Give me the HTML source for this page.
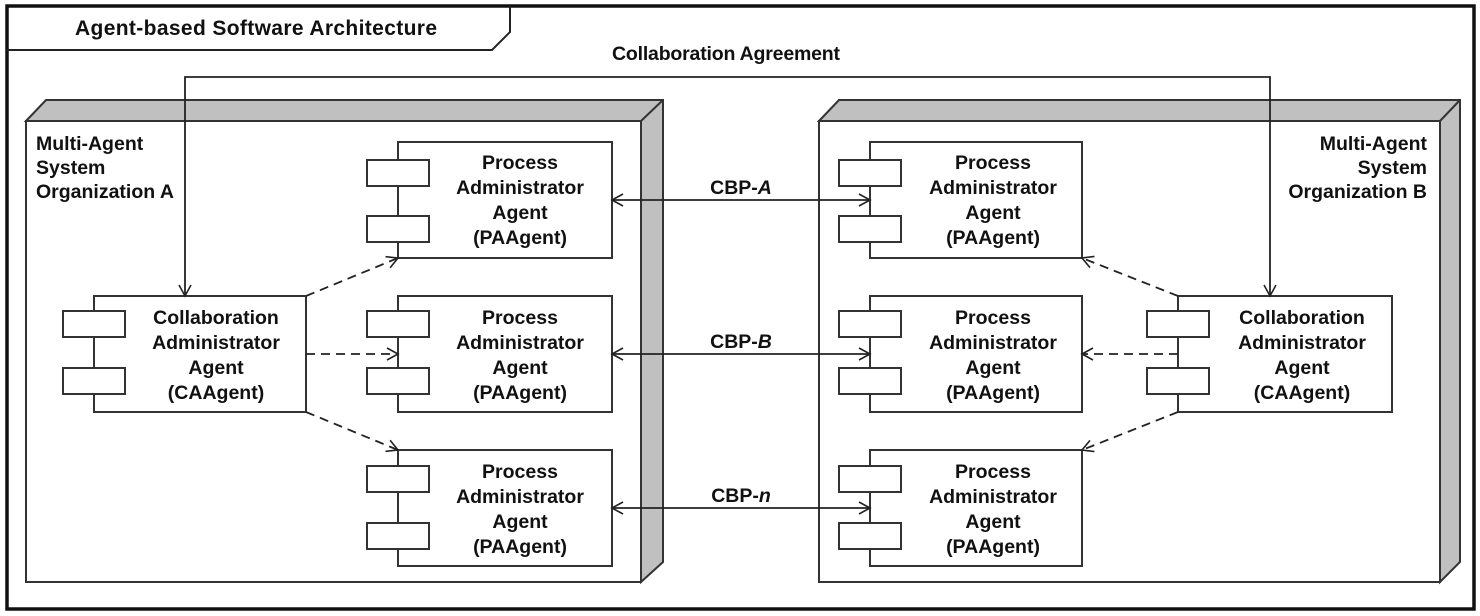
<!DOCTYPE html>
<html><head><meta charset="utf-8"><style>
html,body{margin:0;padding:0;background:#fff;}
svg{display:block;}
text{font-family:"Liberation Sans",Arial,sans-serif;font-weight:bold;font-size:19.5px;fill:#111;}
</style></head><body>
<svg width="1480" height="616" viewBox="0 0 1480 616" xmlns="http://www.w3.org/2000/svg">
<defs>
<marker id="oa" markerWidth="14" markerHeight="14" refX="12" refY="7" orient="auto-start-reverse" markerUnits="userSpaceOnUse">
<path d="M1,1 L12,7 L1,13" fill="none" stroke="#222" stroke-width="1.6"/>
</marker>
</defs>
<rect x="0" y="0" width="1480" height="616" fill="#fff"/>
<rect x="7" y="6" width="1467" height="603" fill="none" stroke="#111" stroke-width="3.5"/>
<path d="M7,50 L492,50 L510,32 L510,6" fill="none" stroke="#222" stroke-width="2"/>
<text x="75" y="35" style="font-size:21px" textLength="362">Agent-based Software Architecture</text>
<text x="612" y="60" textLength="228">Collaboration Agreement</text>

<polygon points="26,121 46,100 663,100 663,562 641,582 641,121" fill="#c0c0c0" stroke="#333" stroke-width="2"/>
<line x1="641" y1="121" x2="663" y2="100" stroke="#333" stroke-width="2"/>
<rect x="26" y="121" width="615" height="461" fill="#fff" stroke="#333" stroke-width="2"/>
<text x="36" y="150">Multi-Agent</text>
<text x="36" y="174">System</text>
<text x="36" y="198">Organization A</text>

<polygon points="819,121 839,100 1460,100 1460,562 1440,582 1440,121" fill="#c0c0c0" stroke="#333" stroke-width="2"/>
<line x1="1440" y1="121" x2="1460" y2="100" stroke="#333" stroke-width="2"/>
<rect x="819" y="121" width="621" height="461" fill="#fff" stroke="#333" stroke-width="2"/>
<text x="1427" y="150" text-anchor="end">Multi-Agent</text>
<text x="1427" y="174" text-anchor="end">System</text>
<text x="1427" y="198" text-anchor="end">Organization B</text>

<g stroke="#333" stroke-width="2" fill="#fff">
<rect x="398" y="142" width="214" height="116"/>
<rect x="367" y="160" width="62" height="26"/><rect x="367" y="216" width="62" height="26"/>
<rect x="398" y="296" width="214" height="116"/>
<rect x="367" y="311" width="62" height="26"/><rect x="367" y="368" width="62" height="26"/>
<rect x="398" y="450" width="214" height="116"/>
<rect x="367" y="466" width="62" height="26"/><rect x="367" y="523" width="62" height="26"/>
<rect x="94" y="296" width="212" height="116"/>
<rect x="63" y="311" width="62" height="26"/><rect x="63" y="368" width="62" height="26"/>
<rect x="870" y="142" width="212" height="116"/>
<rect x="839" y="160" width="62" height="26"/><rect x="839" y="216" width="62" height="26"/>
<rect x="870" y="296" width="212" height="116"/>
<rect x="839" y="311" width="62" height="26"/><rect x="839" y="368" width="62" height="26"/>
<rect x="870" y="450" width="212" height="116"/>
<rect x="839" y="466" width="62" height="26"/><rect x="839" y="523" width="62" height="26"/>
<rect x="1178" y="296" width="214" height="116"/>
<rect x="1147" y="311" width="62" height="26"/><rect x="1147" y="368" width="62" height="26"/>
</g>

<g text-anchor="middle">
<text x="520" y="169">Process</text><text x="520" y="194">Administrator</text><text x="520" y="219">Agent</text><text x="520" y="244">(PAAgent)</text>
<text x="520" y="324">Process</text><text x="520" y="349">Administrator</text><text x="520" y="374">Agent</text><text x="520" y="399">(PAAgent)</text>
<text x="520" y="478">Process</text><text x="520" y="503">Administrator</text><text x="520" y="528">Agent</text><text x="520" y="553">(PAAgent)</text>
<text x="216" y="324">Collaboration</text><text x="216" y="349">Administrator</text><text x="216" y="374">Agent</text><text x="216" y="399">(CAAgent)</text>
<text x="993" y="169">Process</text><text x="993" y="194">Administrator</text><text x="993" y="219">Agent</text><text x="993" y="244">(PAAgent)</text>
<text x="993" y="324">Process</text><text x="993" y="349">Administrator</text><text x="993" y="374">Agent</text><text x="993" y="399">(PAAgent)</text>
<text x="993" y="478">Process</text><text x="993" y="503">Administrator</text><text x="993" y="528">Agent</text><text x="993" y="553">(PAAgent)</text>
<text x="1302" y="324">Collaboration</text><text x="1302" y="349">Administrator</text><text x="1302" y="374">Agent</text><text x="1302" y="399">(CAAgent)</text>
<text x="741" y="194">CBP-<tspan font-style="italic">A</tspan></text>
<text x="741" y="348">CBP-<tspan font-style="italic">B</tspan></text>
<text x="741" y="502">CBP-<tspan font-style="italic">n</tspan></text>
</g>

<g stroke="#222" stroke-width="1.8" fill="none">
<path d="M185,296 L185,77 L1270,77 L1270,296" marker-start="url(#oa)" marker-end="url(#oa)"/>
<line x1="612" y1="200" x2="870" y2="200" marker-start="url(#oa)" marker-end="url(#oa)"/>
<line x1="612" y1="354" x2="870" y2="354" marker-start="url(#oa)" marker-end="url(#oa)"/>
<line x1="612" y1="508" x2="870" y2="508" marker-start="url(#oa)" marker-end="url(#oa)"/>
<g stroke-dasharray="9,6">
<line x1="306" y1="296" x2="398" y2="258" marker-end="url(#oa)"/>
<line x1="306" y1="354" x2="398" y2="354" marker-end="url(#oa)"/>
<line x1="306" y1="412" x2="398" y2="450" marker-end="url(#oa)"/>
<line x1="1178" y1="296" x2="1082" y2="258" marker-end="url(#oa)"/>
<line x1="1178" y1="354" x2="1082" y2="354" marker-end="url(#oa)"/>
<line x1="1178" y1="412" x2="1082" y2="450" marker-end="url(#oa)"/>
</g>
</g>
</svg>
</body></html>
